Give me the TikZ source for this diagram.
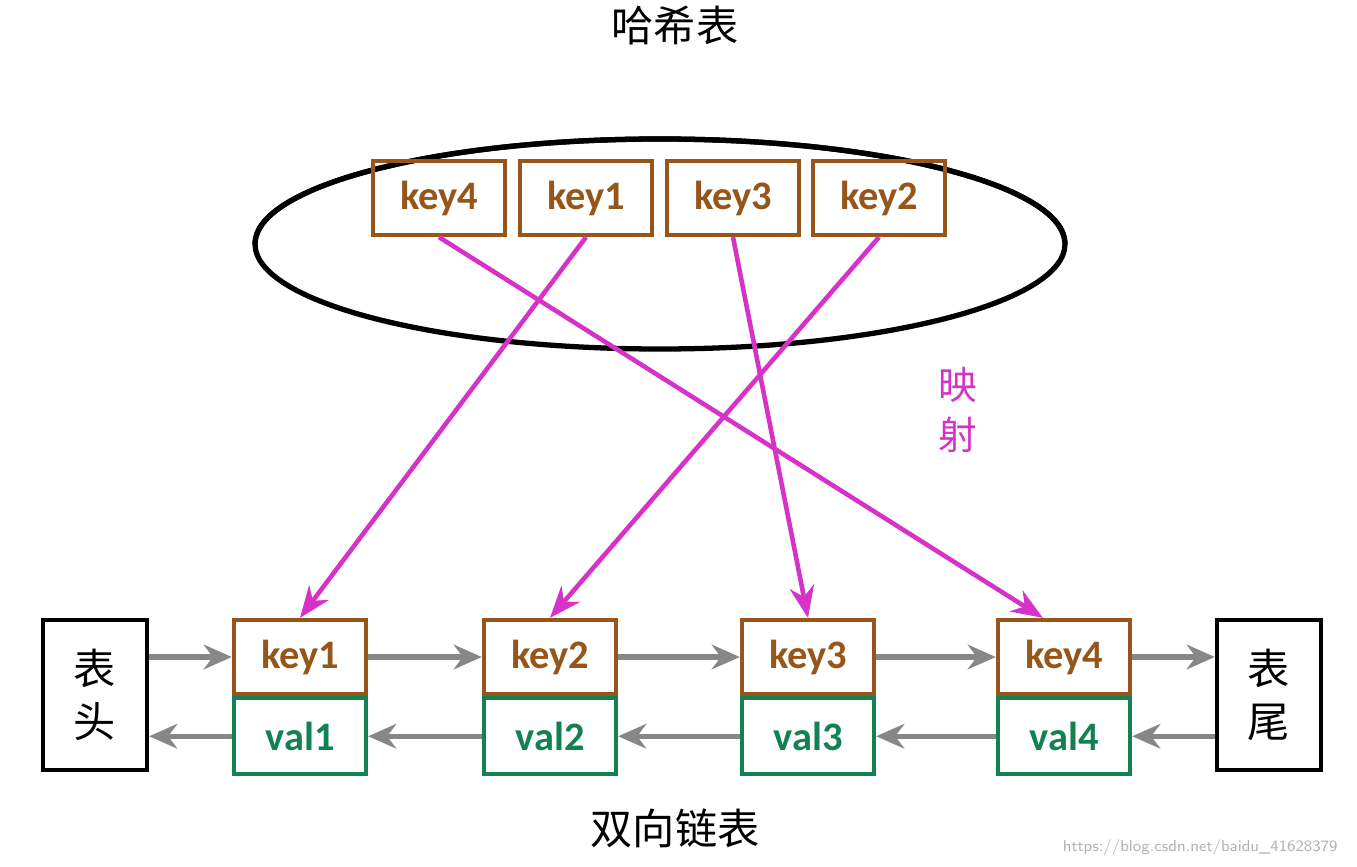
\documentclass[tikz,border=0pt]{standalone}
\usepackage{fontspec}
\setmainfont{Carlito}
\newfontfamily\cjk{Noto Sans CJK SC}
\usetikzlibrary{shapes.geometric,arrows.meta}
\definecolor{kbrown}{RGB}{150,85,25}
\definecolor{vgreen}{RGB}{20,130,80}
\definecolor{mag}{RGB}{215,50,200}
\definecolor{gr}{RGB}{135,135,135}
\tikzset{
 kbox/.style={draw=kbrown,line width=1.2pt,minimum width=1.32cm,minimum height=0.74cm,font=\bfseries\fontsize{11.5}{11}\selectfont,text=kbrown},
 vbox/.style={draw=vgreen,line width=1.2pt,minimum width=1.32cm,minimum height=0.76cm,font=\bfseries\fontsize{11.5}{11}\selectfont,text=vgreen},
 endbox/.style={draw,line width=1.2pt,minimum width=1.04cm,minimum height=1.5cm,font=\cjk\fontsize{12}{15}\selectfont,align=center},
 garr/.style={gr,line width=1.5pt,-{Stealth[length=8pt,width=7pt]}},
 marr/.style={mag,line width=1.3pt,-{Stealth[length=9pt,width=7pt]}},
}
\begin{document}
\begin{tikzpicture}[x=0.01cm,y=-0.01cm]
\useasboundingbox (0,0) rectangle (1357,867);
\node[font=\cjk\fontsize{12}{12}\selectfont] (t) at (675,25) {哈希表};
\coordinate (ell) at (660,244);
\draw[line width=1.5pt] (ell) ellipse [x radius=405, y radius=-105];
\draw[line width=1.5pt] (255,244) arc[start angle=180,end angle=0,x radius=405,y radius=-105];
\node[kbox] (h4) at (439,198) {key4};
\node[kbox] (h1) at (586,198) {key1};
\node[kbox] (h3) at (733,198) {key3};
\node[kbox] (h2) at (879,198) {key2};
\foreach \i/\x in {1/300,2/550,3/808,4/1064}{
  \node[kbox] (k\i) at (\x,657) {key\i};
  \node[vbox,anchor=north] (v\i) at (k\i.south) {val\i};
}
\node[endbox] (head) at (95,695) {表\\头};
\node[endbox] (tail) at (1269,695) {表\\尾};
\draw[garr] (head.east|-k1) -- (k1);
\draw[garr] (k1) -- (k2);
\draw[garr] (k2) -- (k3);
\draw[garr] (k3) -- (k4);
\draw[garr] (k4) -- (tail.west|-k4);
\draw[garr] (tail.west|-v4) -- (v4);
\draw[garr] (v4) -- (v3);
\draw[garr] (v3) -- (v2);
\draw[garr] (v2) -- (v1);
\draw[garr] (v1) -- (head.east|-v1);
\draw[marr] (h4.south) -- ([xshift=-6]k4.north);
\draw[marr] (h1.south) -- (k1.north);
\draw[marr] (h3.south) -- (k3.north);
\draw[marr] (h2.south) -- (k2.north);
\node[font=\cjk\fontsize{11}{14}\selectfont,text=mag,align=center] (map) at (958,410) {映\\射};
\node[font=\cjk\fontsize{12}{12}\selectfont] (b) at (675,828) {双向链表};
\node[font=\sffamily\fontsize{4.5}{5}\selectfont,text=gray!60,anchor=east] (wm) at (1350,848) {https://blog.csdn.net/baidu\_41628379};
\end{tikzpicture}
\end{document}
